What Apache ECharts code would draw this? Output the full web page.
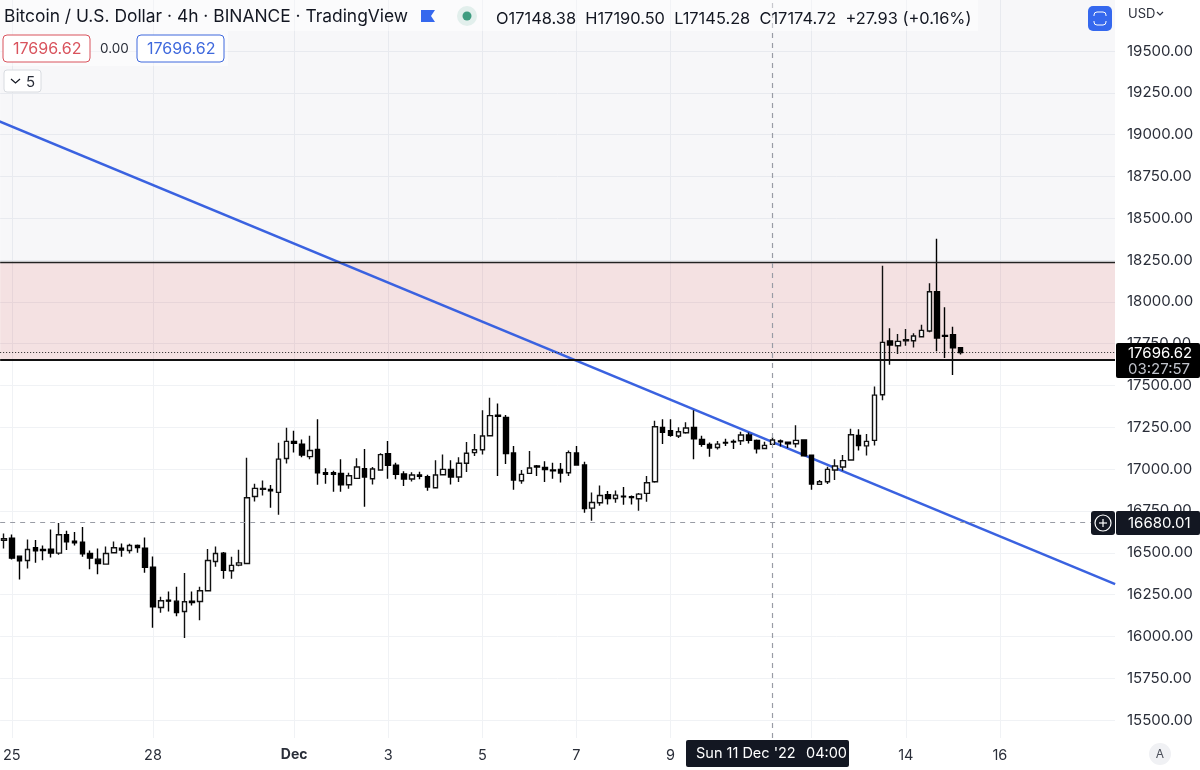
<!DOCTYPE html>
<html>
<head>
<meta charset="utf-8">
<title>BTCUSD 4h</title>
<style>
  html, body { margin: 0; padding: 0; background: #fff; }
  #chart { width: 1200px; height: 770px; }
</style>
<script src="https://cdn.jsdelivr.net/npm/echarts@6/dist/echarts.min.js"></script>
</head>
<body>
<div id="chart"></div>
<script>
// 4h candles, index 0 = 24 Nov 20:00
const opens = [16574,16588,16480,16454,16530,16520,16522,16498,16608,16570,16564,16496,16462,16432,16500,16528,16514,16544,16528,16414,
  16173,16217,16211,16149,16211,16209,16273,16448,16498,16393,16426,16436,16837,16879,16879,16861,17064,17166,17150,17075,
  17118,16979,16979,16975,16907,16945,17003,16943,16995,17093,17023,16971,16941,16965,16955,16889,16967,16999,16953,17035,
  17099,17116,17200,17322,17310,17097,16931,16975,17019,17011,16995,16999,16979,17097,17025,16767,16799,16847,16825,16839,
  16835,16823,16855,16925,17250,17230,17198,17218,17250,17178,17148,17130,17160,17166,17170,17204,17172,17124,17148.38,17168,
  17162,17152,17174,17084,16909,16925,16995,17013,17055,17202,17139,17172,17445,17766,17738,17768,17768,17792,17826,18061,
  17800,17804,17726];
const closes = [16584,16468,16452,16520,16512,16514,16498,16608,16566,16560,16494,16468,16436,16496,16530,16516,16544,16532,16414,16177,
  16213,16211,16143,16207,16203,16273,16454,16496,16395,16425,16440,16829,16885,16885,16871,17060,17166,17154,17085,17112,
  16979,16969,16969,16907,16961,17013,16953,17001,17087,17023,16969,16941,16965,16957,16893,16965,16999,16953,17035,17095,
  17116,17198,17320,17316,17093,16935,16969,17007,17013,16997,16991,16977,17099,17025,16765,16801,16843,16825,16845,16835,
  16831,16851,16919,17254,17220,17202,17224,17246,17182,17148,17126,17150,17156,17162,17204,17172,17122,17142,17174.72,17164,
  17152,17172,17080,16911,16925,16999,17019,17051,17206,17141,17166,17443,17758,17742,17764,17774,17796,17830,18061,17784,
  17794,17726,17696.62];
const lows = [16526,16460,16341,16406,16440,16456,16472,16488,16516,16544,16476,16402,16371,16428,16496,16476,16496,16500,16381,16052,
  16141,16149,16120,15990,16185,16096,16269,16416,16345,16345,16420,16432,16807,16843,16769,16727,17034,17100,17071,17059,
  16907,16913,16865,16865,16883,16945,16776,16909,16991,16943,16939,16899,16927,16939,16871,16887,16965,16909,16923,16983,
  17079,17087,17198,16959,17031,16877,16913,16971,16959,16923,16943,16921,16959,17023,16740,16692,16781,16789,16799,16787,
  16789,16752,16805,16919,17150,17194,17186,17212,17060,17134,17074,17118,17138,17120,17144,17154,17094,17120,17145.28,17136,
  17126,17130,17078,16877,16905,16911,16935,16991,17055,17111,17081,17141,17412,17625,17689,17738,17728,17788,17818,17705,
  17665,17563,17685];
const highs = [16616,16610,16480,16580,16576,16544,16640,16678,16632,16624,16654,16514,16526,16538,16568,16556,16554,16550,16592,16478,
  16237,16269,16297,16379,16269,16297,16522,16538,16504,16476,16518,17068,16913,16933,16905,17158,17248,17230,17178,17200,
  17298,17005,16991,17059,16979,17065,17120,17013,17095,17168,17039,16987,16981,16985,16967,17053,17087,17053,17071,17162,
  17210,17352,17427,17393,17324,17138,16995,17108,17025,17047,17039,17037,17111,17138,17045,16861,16903,16869,16873,16893,
  16843,16857,16959,17290,17298,17298,17250,17280,17353,17200,17160,17168,17182,17178,17224,17220,17178,17164,17190.50,17178,
  17164,17262,17176,17088,16935,17015,17060,17085,17242,17238,17210,17495,18217,17842,17808,17838,17812,17864,18111,18378,
  17968,17852,17730];

// trend line ends and zone edges, in candle index / price
const trendX = [-0.6, 141.7];
const trendY = [19080, 16313];
const zoneTop = 18238;
const zoneBottom = 17652;
const lastPrice = 17696.62;
const crossPrice = 16680.01;
const crossIndex = 98;

const priceTicks = [15500,15750,16000,16250,16500,16750,17000,17250,17500,17750,18000,18250,18500,18750,19000,19250,19500];
const dayTicks = [1,19,37,49,61,73,85,103,115,127];
const dayLabels = ['25','28','Dec','3','5','7','9','12','14','16'];

const FONT = 'Inter, "Noto Sans", sans-serif';
const xMin = -0.49, xMax = 141.68;
const yMin = 15392.6, yMax = 19805.3;

const candles = opens.map((o, i) => [i, o, closes[i], lows[i], highs[i]]);

const chart = echarts.init(document.getElementById('chart'));

chart.setOption({
  animation: false,
  backgroundColor: '#fff',
  grid: { left: -1, top: 0, width: 1116, height: 738, containLabel: false },
  xAxis: {
    type: 'value', min: xMin, max: xMax,
    axisLine: { show: false },
    axisTick: { show: false, customValues: dayTicks },
    splitLine: { show: true, lineStyle: { color: '#f0f2f5', width: 1 } },
    axisLabel: {
      customValues: dayTicks, margin: 10, fontFamily: FONT, fontSize: 14.5, color: '#2a2e39',
      formatter: v => {
        const s = dayLabels[dayTicks.indexOf(v)];
        return s === 'Dec' ? '{b|Dec}' : s;
      },
      rich: { b: { fontWeight: 'bold', fontFamily: FONT, fontSize: 14, color: '#2a2e39' } }
    }
  },
  yAxis: {
    type: 'value', position: 'right', min: yMin, max: yMax,
    axisLine: { show: false },
    axisTick: { show: false, customValues: priceTicks },
    splitLine: { show: true, lineStyle: { color: '#f0f2f5', width: 1 } },
    axisLabel: {
      customValues: priceTicks, margin: 12, fontFamily: FONT, fontSize: 15, color: '#2a2e39',
      formatter: v => v.toFixed(2)
    }
  },
  series: [
    {
      type: 'line', z: 3, silent: true, showSymbol: false,
      data: trendX.map((x, i) => [x, trendY[i]]),
      lineStyle: { color: '#3a62e0', width: 2.5 },
      markArea: {
        silent: true,
        data: [
          [{ yAxis: zoneTop, itemStyle: { color: 'rgba(42,60,110,0.04)' } }, { yAxis: yMax }],
          [{ yAxis: zoneBottom, itemStyle: { color: 'rgba(178,40,51,0.14)' } }, { yAxis: zoneTop }]
        ]
      }
    },
    {
      type: 'candlestick', z: 4, silent: true,
      encode: { x: 0, y: [1, 2, 3, 4] },
      barWidth: 5,
      data: candles,
      itemStyle: { color: '#fff', color0: '#000', borderColor: '#111', borderColor0: '#000', borderWidth: 1.4 }
    },
    {
      // horizontal levels and crosshair
      type: 'line', z: 5, silent: true, data: [],
      markLine: {
        silent: true, symbol: 'none', label: { show: false }, animation: false,
        data: [
          { yAxis: zoneTop, lineStyle: { color: '#222', width: 1.4, type: 'solid' } },
          { yAxis: zoneBottom, lineStyle: { color: '#111', width: 2.2, type: 'solid' } },
          { yAxis: lastPrice, lineStyle: { color: '#222', width: 1, type: [1, 2] } },
          { yAxis: crossPrice, lineStyle: { color: '#999ca5', width: 1.2, type: [5, 5] } },
          { xAxis: crossIndex, lineStyle: { color: '#999ca5', width: 1.2, type: [5, 5] } }
        ]
      }
    }
  ]
});

// top bar, chips and price tags
const lastY = chart.convertToPixel({ yAxisIndex: 0 }, lastPrice);
const crossY = chart.convertToPixel({ yAxisIndex: 0 }, crossPrice);
const crossX = chart.convertToPixel({ xAxisIndex: 0 }, crossIndex);

function txt(x, y, text, size, fill, extra) {
  return { type: 'text', x, y, z: 20, style: Object.assign({ text, fontFamily: FONT, fontSize: size, fill, textVerticalAlign: 'middle' }, extra || {}) };
}
function box(x, y, w, h, r, fill, stroke) {
  return { type: 'rect', z: 19, shape: { x, y, width: w, height: h, r }, style: { fill, stroke: stroke || null, lineWidth: stroke ? 1 : 0 } };
}

chart.setOption({
  graphic: [
    box(0, 0, 978, 31, 0, 'rgba(255,255,255,0.45)'),
    box(0, 31, 228, 35, 0, 'rgba(255,255,255,0.45)'),
    txt(4, 17, 'Bitcoin / U.S. Dollar · 4h · BINANCE · TradingView', 17.4, '#131722'),
    { type: 'polygon', z: 20, shape: { points: [[421, 10], [435, 10], [431, 16], [435, 22], [421, 22]] }, style: { fill: '#3568ee' } },
    { type: 'circle', z: 20, shape: { cx: 467, cy: 16, r: 10 }, style: { fill: '#e2efec' } },
    { type: 'circle', z: 20, shape: { cx: 467, cy: 16, r: 4.5 }, style: { fill: '#3f9c80' } },
    txt(496, 19, 'O17148.38  H17190.50  L17145.28  C17174.72  +27.93 (+0.16%)', 16.4, '#131722'),

    box(3, 35, 87, 27, 4, '#fff', '#d9535d'),
    txt(13, 49, '17696.62', 16, '#d9535d'),
    txt(100, 49, '0.00', 13.5, '#2a2e39'),
    box(137, 35, 87, 27, 4, '#fff', '#3f69dd'),
    txt(147, 49, '17696.62', 16, '#3f69dd'),
    box(4, 70, 37, 22, 3, '#fff', '#d8dbe0'),
    { type: 'polyline', z: 20, shape: { points: [[11, 79], [15.5, 83], [20, 79]] }, style: { stroke: '#131722', lineWidth: 1.2, fill: null } },
    txt(26, 82, '5', 15, '#2a2e39'),

    // fullscreen button and currency
    box(1088, 6, 24, 25, 5, '#3568ee'),
    box(1094, 12, 12, 13, 3, null, '#fff'),
    box(1092, 16, 16, 5, 0, '#3568ee'),
    txt(1128, 14, 'USD', 13, '#2a2e39'),
    { type: 'polyline', z: 20, shape: { points: [[1157, 12], [1160, 15], [1163, 12]] }, style: { stroke: '#2a2e39', lineWidth: 1.2, fill: null } },

    // last price tag
    box(1116, Math.round(lastY) - 10, 84, 35, 2, '#000'),
    txt(1128, Math.round(lastY), '17696.62', 15, '#fff'),
    txt(1128, Math.round(lastY) + 16, '03:27:57', 15, '#c0c3cb'),

    // crosshair tags
    box(1091, Math.round(crossY) - 12, 24, 24, 3, '#131722'),
    { type: 'circle', z: 20, shape: { cx: 1103, cy: Math.round(crossY), r: 8 }, style: { fill: null, stroke: '#fff', lineWidth: 1.2 } },
    { type: 'line', z: 20, shape: { x1: 1099, y1: Math.round(crossY), x2: 1107, y2: Math.round(crossY) }, style: { stroke: '#fff', lineWidth: 1.2 } },
    { type: 'line', z: 20, shape: { x1: 1103, y1: Math.round(crossY) - 4, x2: 1103, y2: Math.round(crossY) + 4 }, style: { stroke: '#fff', lineWidth: 1.2 } },
    box(1116, Math.round(crossY) - 12, 84, 24, 2, '#131722'),
    txt(1128, Math.round(crossY), '16680.01', 15, '#fff'),

    box(Math.round(crossX) - 86, 740, 163, 27, 2, '#131722'),
    txt(Math.round(crossX) - 76, 754, "Sun 11 Dec '22", 14.5, '#fff'),
    txt(Math.round(crossX) + 34, 754, '04:00', 14.5, '#fff'),

    { type: 'circle', z: 20, shape: { cx: 1160, cy: 754, r: 11 }, style: { fill: '#f0f1f4' } },
    txt(1160, 754, 'A', 12, '#4a4e59', { textAlign: 'center' })
  ]
});
</script>
</body>
</html>
